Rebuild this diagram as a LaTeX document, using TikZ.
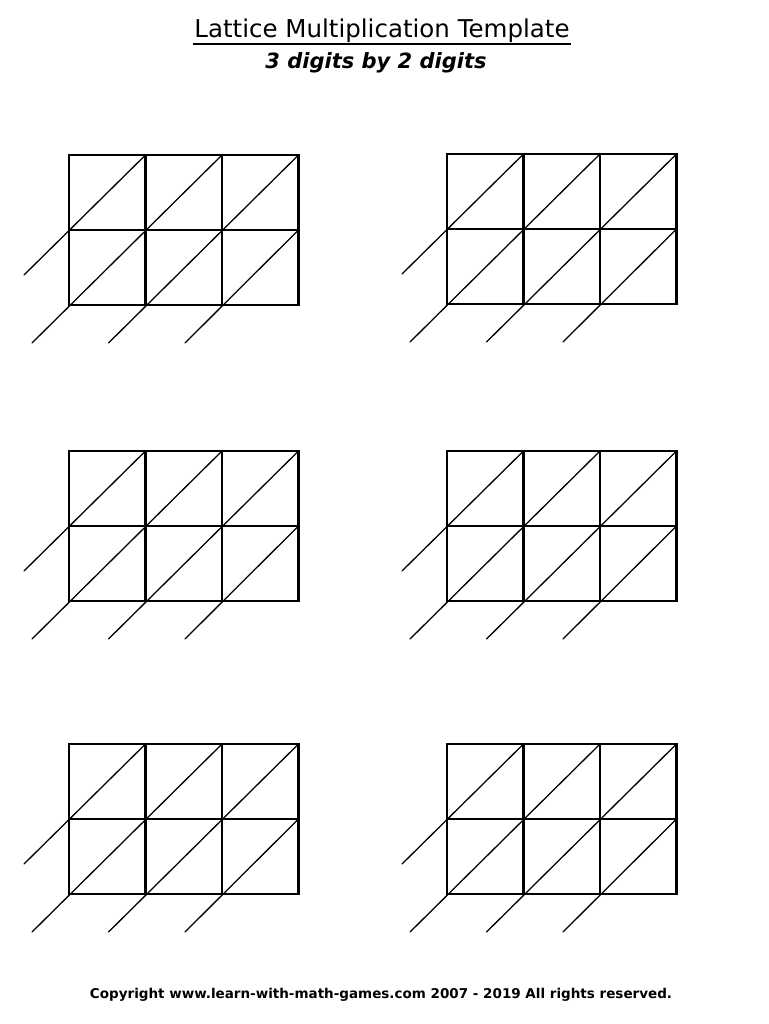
\documentclass[tikz,border=0pt]{standalone}
\usepackage{fontspec}
\setmainfont{DejaVu Sans}
\usepackage{tikz}

\tikzset{
  lattice/.pic={
    \draw[box] (0,0) rectangle (229.5,150);
    \foreach \i in {1,2}
      \draw[box] (\i*76.5,0) -- (\i*76.5,150);
    \draw[box] (0,75) -- (229.5,75);
    % diagonals running out below the grid
    \draw[diag] (-45,120) -- (76.5,0);
    \draw[diag] (-37,188) -- (153,0);
    \draw[diag] (39.5,188) -- (229.5,0);
    \draw[diag] (116,188) -- (229.5,75);
  }
}

\begin{document}
\begin{tikzpicture}[x=1pt, y=-1pt, box/.style={line width=2.2pt}, diag/.style={line width=1.3pt, line cap=round}]
\useasboundingbox[fill=white] (0,0) rectangle (768,1024);
\node[font=\fontsize{24.5}{28}\selectfont] (title) at (382,31) {Lattice Multiplication Template};
\draw[line width=1.4pt] (193,44) -- (571,44);
\node[font=\fontsize{21}{24}\selectfont\bfseries\itshape] (sub) at (376,63) {3 digits by 2 digits};
\pic at (69,155) {lattice};
\pic at (447,154) {lattice};
\pic at (69,451) {lattice};
\pic at (447,451) {lattice};
\pic at (69,744) {lattice};
\pic at (447,744) {lattice};
\node[font=\fontsize{13.5}{15}\selectfont\bfseries] (foot) at (381,995) {Copyright www.learn-with-math-games.com 2007 - 2019 All rights reserved.};
\end{tikzpicture}
\end{document}
